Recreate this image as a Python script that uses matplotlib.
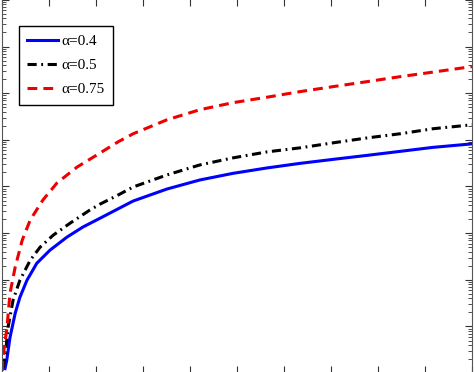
import matplotlib
matplotlib.use("Agg")
import matplotlib.pyplot as plt
from matplotlib.ticker import MultipleLocator, LogLocator, NullFormatter

# values (x linear 0..1, y on a log scale)
x_04 = [0.0064, 0.010, 0.017, 0.028, 0.038, 0.053, 0.074, 0.102, 0.138, 0.172, 0.209,
        0.279, 0.351, 0.421, 0.491, 0.564, 0.634, 0.704, 0.777, 0.847, 0.917, 1.0]
y_04 = [1.25e-7, 1.86e-7, 5.80e-7, 1.91e-6, 4.20e-6, 9.75e-6, 2.26e-5, 4.31e-5, 8.20e-5,
        1.35e-4, 2.10e-4, 4.88e-4, 8.83e-4, 1.38e-3, 1.91e-3, 2.50e-3, 3.13e-3, 3.81e-3,
        4.65e-3, 5.66e-3, 6.90e-3, 8.20e-3]

x_05 = [0.002, 0.0064, 0.0128, 0.0234, 0.038, 0.060, 0.081, 0.109, 0.145, 0.187, 0.209,
        0.247, 0.279, 0.351, 0.421, 0.491, 0.564, 0.634, 0.704, 0.777, 0.847, 0.917, 1.0]
y_05 = [1.31e-7, 2.05e-7, 9.51e-7, 3.62e-6, 9.75e-6, 2.62e-5, 5.00e-5, 9.06e-5, 1.64e-4,
        3.13e-4, 4.21e-4, 6.56e-4, 9.75e-4, 1.77e-3, 2.90e-3, 4.10e-3, 5.52e-3, 6.73e-3,
        8.61e-3, 1.10e-2, 1.35e-2, 1.73e-2, 2.10e-2]

x_075 = [0.001, 0.002, 0.0106, 0.017, 0.028, 0.043, 0.060, 0.087, 0.117, 0.160, 0.209,
         0.247, 0.279, 0.351, 0.421, 0.491, 0.564, 0.634, 0.704, 0.777, 0.847, 0.917, 1.0]
y_075 = [1.13e-7, 2.15e-7, 9.51e-7, 5.13e-6, 1.86e-5, 7.07e-5, 1.91e-4, 5.13e-4, 1.19e-3,
         2.62e-3, 5.25e-3, 9.06e-3, 1.35e-2, 2.69e-2, 4.42e-2, 6.25e-2, 8.20e-2, 0.108,
         0.138, 0.177, 0.226, 0.283, 0.372]

labels = ["\u03b1=0.4", "\u03b1=0.5", "\u03b1=0.75"]

plt.rcParams["font.family"] = ["Liberation Serif", "DejaVu Serif"]

fig = plt.figure(figsize=(4.74, 3.72), dpi=100)
ax = fig.add_axes([2 / 474, -0.003, 470 / 474, 1.006])

ax.plot(x_04, y_04, color="#0000ff", lw=2.2, label=labels[0])
ax.plot(x_05, y_05, color="black", lw=2.2, dashes=(3, 1.5, 0.6, 1.5), label=labels[1])
ax.plot(x_075, y_075, color="#ee0000", lw=2.2, dashes=(3.2, 2.0), label=labels[2])

ax.set_yscale("log")
ax.set_xlim(0, 1)
ax.set_ylim(1.0e-7, 1.05e1)

ax.xaxis.set_major_locator(MultipleLocator(0.1))
ax.yaxis.set_major_locator(LogLocator(base=10, numticks=20))
ax.yaxis.set_minor_locator(LogLocator(base=10, subs=range(2, 10), numticks=100))
ax.yaxis.set_minor_formatter(NullFormatter())
ax.tick_params(which="both", direction="in", top=True, right=True,
               labelbottom=False, labelleft=False, color="#333333")
ax.tick_params(which="major", length=5, width=0.8)
ax.tick_params(which="minor", length=3, width=0.6)
for s in ax.spines.values():
    s.set_color("#555555")

leg = ax.legend(loc="upper left", bbox_to_anchor=(0.036, 0.927), borderaxespad=0,
                fontsize=11, handlelength=2.0, handletextpad=0.2,
                labelspacing=0.67, borderpad=0.55, fancybox=False, framealpha=1)
leg.get_frame().set_edgecolor("black")
leg.get_frame().set_linewidth(1.0)

fig.savefig("out.png", dpi=100)
